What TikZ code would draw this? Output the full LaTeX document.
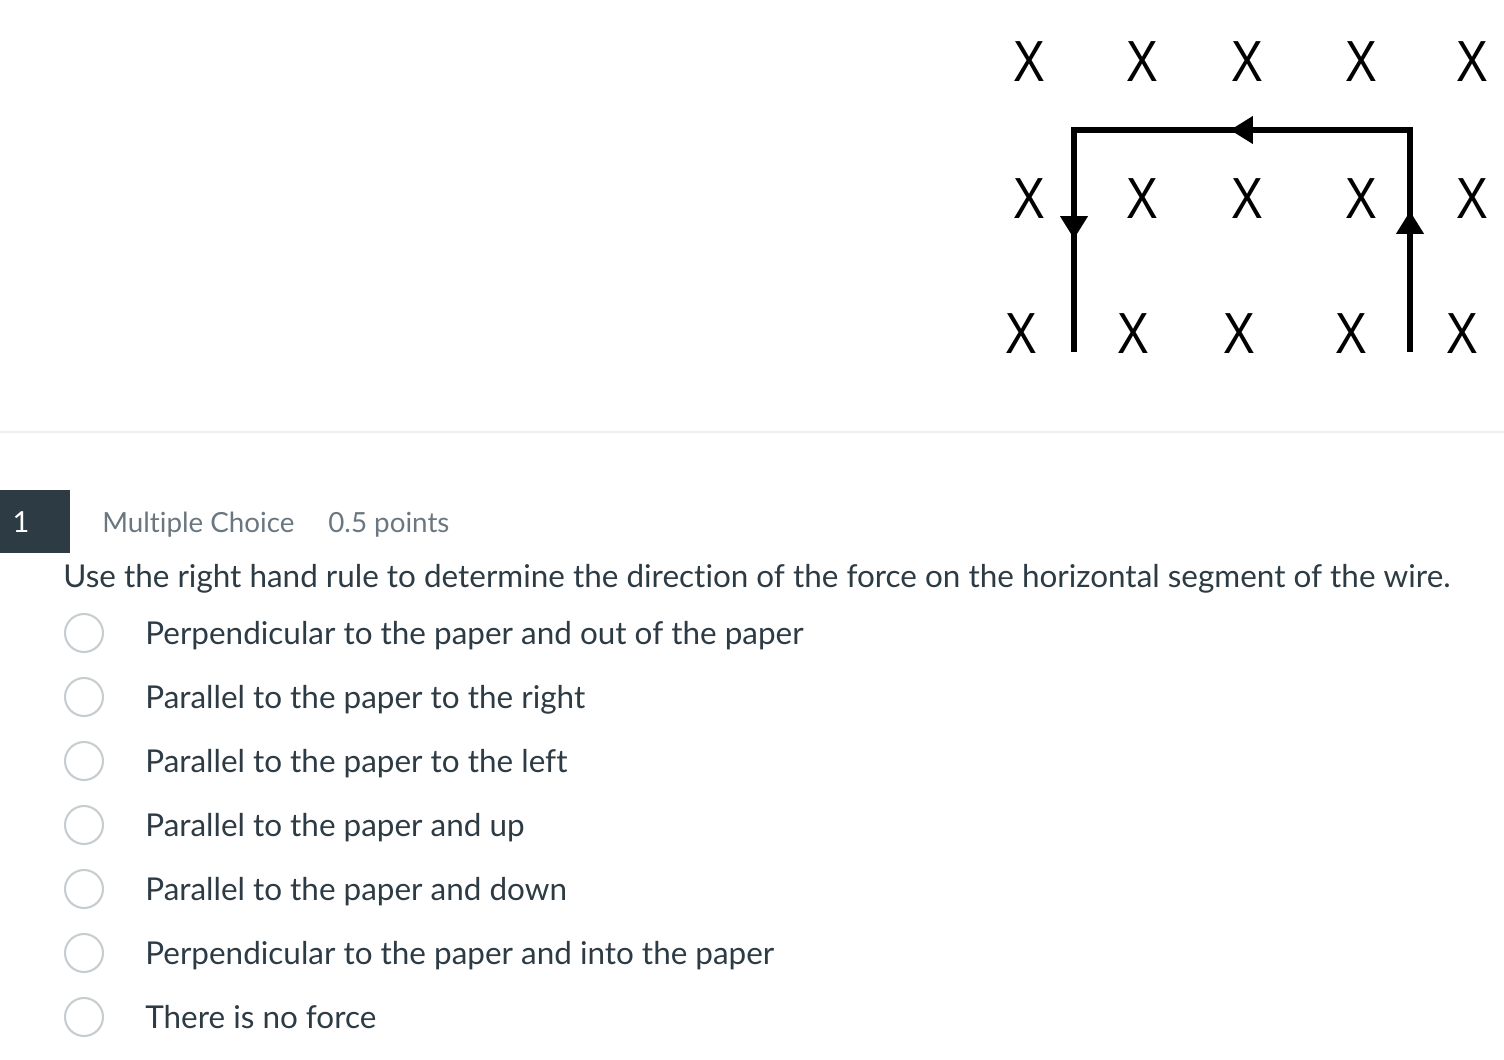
\documentclass[tikz,border=0pt]{standalone}
\usepackage{fontspec}
\setmainfont{Lato}[Ligatures=NoCommon]
\newfontfamily\crossfont{Liberation Sans}
\usetikzlibrary{arrows.meta}
\definecolor{ink}{HTML}{2D3B45}
\definecolor{metagray}{HTML}{6B7780}
\definecolor{ringgray}{HTML}{C7CDD1}
\definecolor{rulegray}{HTML}{EEEEEE}
\tikzset{
  cross/.style={font=\crossfont\fontsize{33}{33}\selectfont, xscale=0.82, inner sep=0pt},
  wire/.style={line width=3.4pt},
  flow/.style={wire, -{Triangle[length=13pt,width=15pt]}},
  answer/.style={anchor=base west, inner sep=0pt, text=ink, font=\fontsize{17.9}{21}\selectfont},
  meta/.style={anchor=base west, inner sep=0pt, text=metagray, font=\fontsize{15.8}{19}\selectfont},
  radio/.style={draw=ringgray, line width=1.2pt},
}
\begin{document}
\begin{tikzpicture}[x=0.02cm,y=-0.02cm]
\useasboundingbox (0,0) rectangle (1504,1060);

% magnetic field into the page
\foreach \xa/\xb [count=\i] in {1029/1021,1142/1133,1247/1239,1361/1351,1472/1462}{
  \node[cross] (top\i) at (\xa,62) {X};
  \node[cross] (mid\i) at (\xa,199) {X};
  \node[cross] (low\i) at (\xb,334) {X};
}

% the wire
\coordinate (a) at (1074,352);
\coordinate (b) at (1074,130);
\coordinate (c) at (1410,130);
\coordinate (d) at (1410,352);
\draw[wire] (a) -- (b) -- (c) -- (d);
\draw[flow] (1262,130) -- (1230,130);
\draw[flow] (1074,205) -- (1074,239);
\draw[flow] (1410,245) -- (1410,211);

% separator
\draw[rulegray, line width=1pt] (0,432) -- (1504,432);

% question header
\fill[ink] (0,490) rectangle (70,553);
\node[anchor=base, text=white, font=\fontsize{16.5}{19}\selectfont, inner sep=0pt] (num) at (21,532) {1};
\node[meta] (kind) at (102,532) {Multiple Choice};
\node[meta] (pts) at (328,532) {0.5 points};
\node[answer] (question) at (63,587) {Use the right hand rule to determine the direction of the force on the horizontal segment of the wire.};

% answers
\foreach \txt [count=\i] in {
  Perpendicular to the paper and out of the paper,
  Parallel to the paper to the right,
  Parallel to the paper to the left,
  Parallel to the paper and up,
  Parallel to the paper and down,
  Perpendicular to the paper and into the paper,
  There is no force}{
  \draw[radio] (84,569+64*\i) circle (19);
  \node[answer] (opt\i) at (145,580+64*\i) {\txt};
}
\end{tikzpicture}
\end{document}
